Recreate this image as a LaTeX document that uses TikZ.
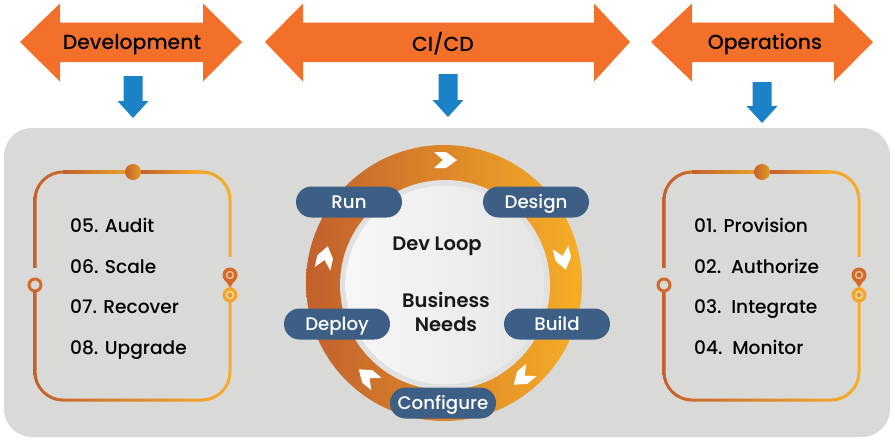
\documentclass[tikz,border=0pt]{standalone}
\usepackage{fontspec}
\setmainfont{Poppins}
\newfontfamily\popmed{Poppins Medium}
\newfontfamily\popsemi{Poppins SemiBold}
\definecolor{arroworange}{HTML}{F27029}
\definecolor{arrowblue}{HTML}{1C82C7}
\definecolor{panelgrey}{HTML}{D9D9D7}
\definecolor{pillblue}{HTML}{3E5F85}
\definecolor{ringL}{HTML}{C1602D}
\definecolor{ringR}{HTML}{F6AE26}
\definecolor{frameL}{HTML}{C4602C}
\definecolor{frameR}{HTML}{F7AE2A}
\definecolor{pinA}{HTML}{D2692A}
\definecolor{pinAin}{HTML}{EBC29A}
\definecolor{pinB}{HTML}{F3A52A}
\definecolor{pinBin}{HTML}{F9DCA6}
\definecolor{pinBdot}{HTML}{E29A3A}
\definecolor{innerrim}{HTML}{E1E1E1}
\tikzset{
  toplabel/.style={font=\popmed\fontsize{20.4}{24}\selectfont, text=black, inner sep=0pt, anchor=base},
  itemtext/.style={font=\popmed\fontsize{18.6}{22}\selectfont, text=black, anchor=base west, inner sep=0pt},
  pill/.style={fill=pillblue, rounded corners=15.5pt, minimum width=106pt, minimum height=31pt, inner sep=0pt, text=white, text height=12.6pt, text depth=0pt, font=\popmed\fontsize{18.2}{20}\selectfont},
  centertext/.style={font=\popsemi\fontsize{19.5}{24}\selectfont, text=black!90, inner sep=0pt, anchor=base},
}
\newcommand\mydblarrow[4]{%
  \fill[arroworange] (#1,42) -- (#2,3.5) -- (#2,22.5) -- (#3,22.5) -- (#3,3.5) -- (#4,42)
    -- (#3,81.5) -- (#3,62) -- (#2,62) -- (#2,81.5) -- cycle;}
\newcommand\mydownarrow[3]{%
  \fill[arrowblue] (#1-9.5,#2) -- (#1+9.5,#2) -- (#1+9.5,#3-17) -- (#1+15.5,#3-17) -- (#1,#3)
    -- (#1-15.5,#3-17) -- (#1-9.5,#3-17) -- cycle;}
\newcommand\mychev[3]{%
  \fill[white, shift={(#1,#2)}, rotate=#3] (-11,-8) -- (1,-8) -- (12,0) -- (1,8) -- (-11,8) -- (-2,0) -- cycle;}
\newcommand\myframe[1]{%
  \begin{scope}[shift={(#1,0)}]
  \path[even odd rule, left color=frameL, right color=frameR]
    (-1.5,170.5) [rounded corners=29.5pt] rectangle (196.5,401.5)
    (1.5,173.5) [rounded corners=26.5pt] rectangle (193.5,398.5);
  \shade[left color=frameL, right color=frameR!92!black] (28,170.5) rectangle (90,173.5);
  \shade[left color=frameL, right color=frameR] (106,170.5) rectangle (167,173.5);
  \shade[left color=frameL!95!orange, right color=frameR!90!black] (98,172) circle (8);
  \fill[panelgrey] (-4,268) rectangle (4,279);
  \draw[line width=3pt, draw=pinA, fill=panelgrey] (0,285) circle (6);
  \fill[panelgrey] (191,257) rectangle (199,268);
  \fill[pinB] (195,295) circle (7.5);
  \fill[pinBin] (195,295) circle (4.2);
  \fill[pinBdot] (195,295) circle (2.6);
  \fill[pinA] (195,275) circle (7.5);
  \fill[pinA] (188.5,278.5) -- (201.5,278.5) -- (195,287) -- cycle;
  \fill[pinAin] (195,275) circle (4.2);
  \fill[pinA] (195,275) circle (2.6);
  \end{scope}}
\begin{document}
\begin{tikzpicture}[x=1pt,y=-1pt]
\useasboundingbox (0,0) rectangle (895,440);
% top double arrows
\mydblarrow{20}{60}{203}{242}
\mydblarrow{265}{303}{594}{630}
\mydblarrow{651}{692}{834}{873}
\node[toplabel] (dev) at (132,49) {Development};
\node[toplabel] (cicd) at (443,51) {CI/CD};
\node[toplabel] (ops) at (765,49) {Operations};
% blue down arrows
\mydownarrow{133}{76}{118}
\mydownarrow{448}{74}{117}
\mydownarrow{762}{82}{123}
% grey panel
\fill[panelgrey, rounded corners=28pt] (4,128) rectangle (890,437);
% side frames
\myframe{35}
\myframe{664}
\node[itemtext] (i5) at (70,232.5) {05. Audit};
\node[itemtext] (i6) at (70,273.5) {06. Scale};
\node[itemtext] (i7) at (70,313.5) {07. Recover};
\node[itemtext] (i8) at (70,354.5) {08. Upgrade};
\node[itemtext] (i1) at (694,232.5) {01. Provision};
\node[itemtext] (i2) at (694,273.5) {02.\ \ Authorize};
\node[itemtext] (i3) at (694,313.5) {03.\ \ Integrate};
\node[itemtext] (i4) at (694,354.5) {04.\ \ Monitor};
% ring
\shade[left color=ringL, right color=ringR] (444,283) circle (138);
\fill[innerrim] (445,285) circle (105);
\shade[left color=white!97!black, right color=white!90!black] (445,285) circle (99.5);
\mychev{445}{160}{0}
\mychev{563}{258}{-77}
\mychev{523}{377}{-140}
\mychev{368}{377}{140}
\mychev{325}{258}{77}
\node[centertext] (loop) at (437,250) {Dev Loop};
\node[centertext] (business) at (446,307) {Business};
\node[centertext] (needs) at (446,331) {Needs};
% pills
\node[pill] (run) at (349,202) {Run};
\node[pill] (design) at (536,202) {Design};
\node[pill] (deploy) at (337,324) {Deploy};
\node[pill] (build) at (557,324) {Build};
\node[pill] (configure) at (443,403) {Configure};
\end{tikzpicture}
\end{document}
